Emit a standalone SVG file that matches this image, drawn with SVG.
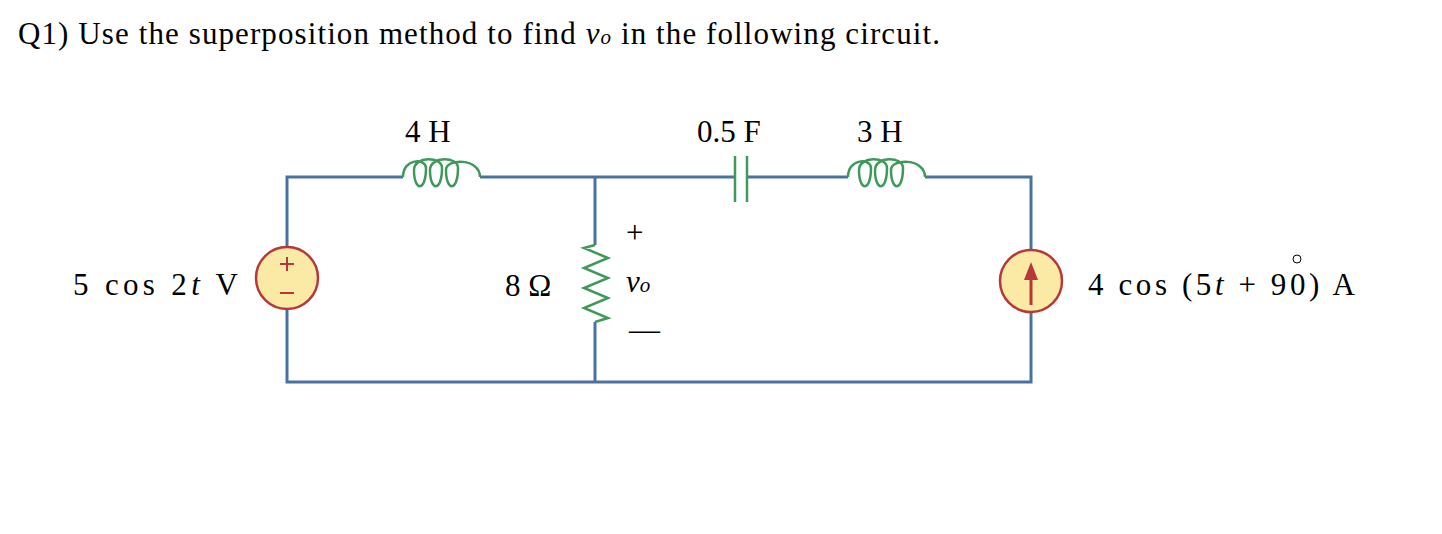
<svg xmlns="http://www.w3.org/2000/svg" width="1442" height="534" viewBox="0 0 1442 534">
<style>
.w{stroke:#4a72a0;stroke-width:3;fill:none}
.g{stroke:#3f9a5a;stroke-width:2.5;fill:none}
.src{fill:#fbe9a6;stroke:#b8383a;stroke-width:2.5}
.t{font-family:"Liberation Serif",serif;font-size:31px;fill:#000}
.i{font-style:italic}
</style>
<rect width="1442" height="534" fill="#fff"/>
<text class="t" x="18" y="44" font-size="32" textLength="922" lengthAdjust="spacing">Q1) Use the superposition method to find <tspan class="i">v</tspan><tspan class="i" font-size="21">o</tspan> in the following circuit.</text>
<g id="wires">
<path class="w" d="M287,247 V177 H403 M480,177 H735 M747,177 H848 M925,177 H1031 V250 M1031,312 V382 H287 V309 M595,177 V245 M595,322 V382"/>
</g>
<g id="L1">
<path class="g" d="M403,177 C403,158 426,158 426,168 C426,192 414,192 414,170 C414,156 442,156 442,168 C442,192 430,192 430,170 C430,156 458,156 458,168 C458,192 446,192 446,170 C446,158 480,158 480,177"/>
<text class="t" x="405" y="142">4 H</text>
</g>
<g id="C1">
<path class="g" d="M735,156 V202 M747,156 V202"/>
<text class="t" x="697" y="142">0.5 F</text>
</g>
<g id="L2">
<path class="g" d="M848,177 C848,158 871,158 871,168 C871,192 859,192 859,170 C859,156 887,156 887,168 C887,192 875,192 875,170 C875,156 903,156 903,168 C903,192 891,192 891,170 C891,158 925,158 925,177"/>
<text class="t" x="857" y="142">3 H</text>
</g>
<g id="R1">
<path class="g" d="M595,245 L584,248 L608,258 L584,268 L608,278 L584,288 L608,298 L584,308 L608,318 L595,322"/>
<text class="t" x="505" y="296">8 Ω</text>
<text class="t" x="626" y="243" font-size="30">+</text>
<text class="t i" x="626" y="292">v<tspan font-size="21">o</tspan></text>
<text class="t" x="629" y="340" font-size="26">—</text>
</g>
<g id="V1">
<circle class="src" cx="287" cy="278" r="31"/>
<path d="M280,264 H294 M287,257 V271 M280,293 H294" stroke="#b8383a" stroke-width="2"/>
<text class="t" x="73" y="295" textLength="165" lengthAdjust="spacing">5 cos 2<tspan class="i">t</tspan>  V</text>
</g>
<g id="I1">
<circle class="src" cx="1031" cy="281" r="31"/>
<path d="M1031,305 V276" stroke="#b8383a" stroke-width="3"/>
<polygon points="1031,262 1024,280 1038,280" fill="#b8383a"/>
<text class="t" x="1088" y="295" textLength="267" lengthAdjust="spacing">4 cos (5<tspan class="i">t</tspan> + 90) A</text>
<circle cx="1297" cy="259" r="4" fill="none" stroke="#000" stroke-width="1"/>
</g>
</svg>
